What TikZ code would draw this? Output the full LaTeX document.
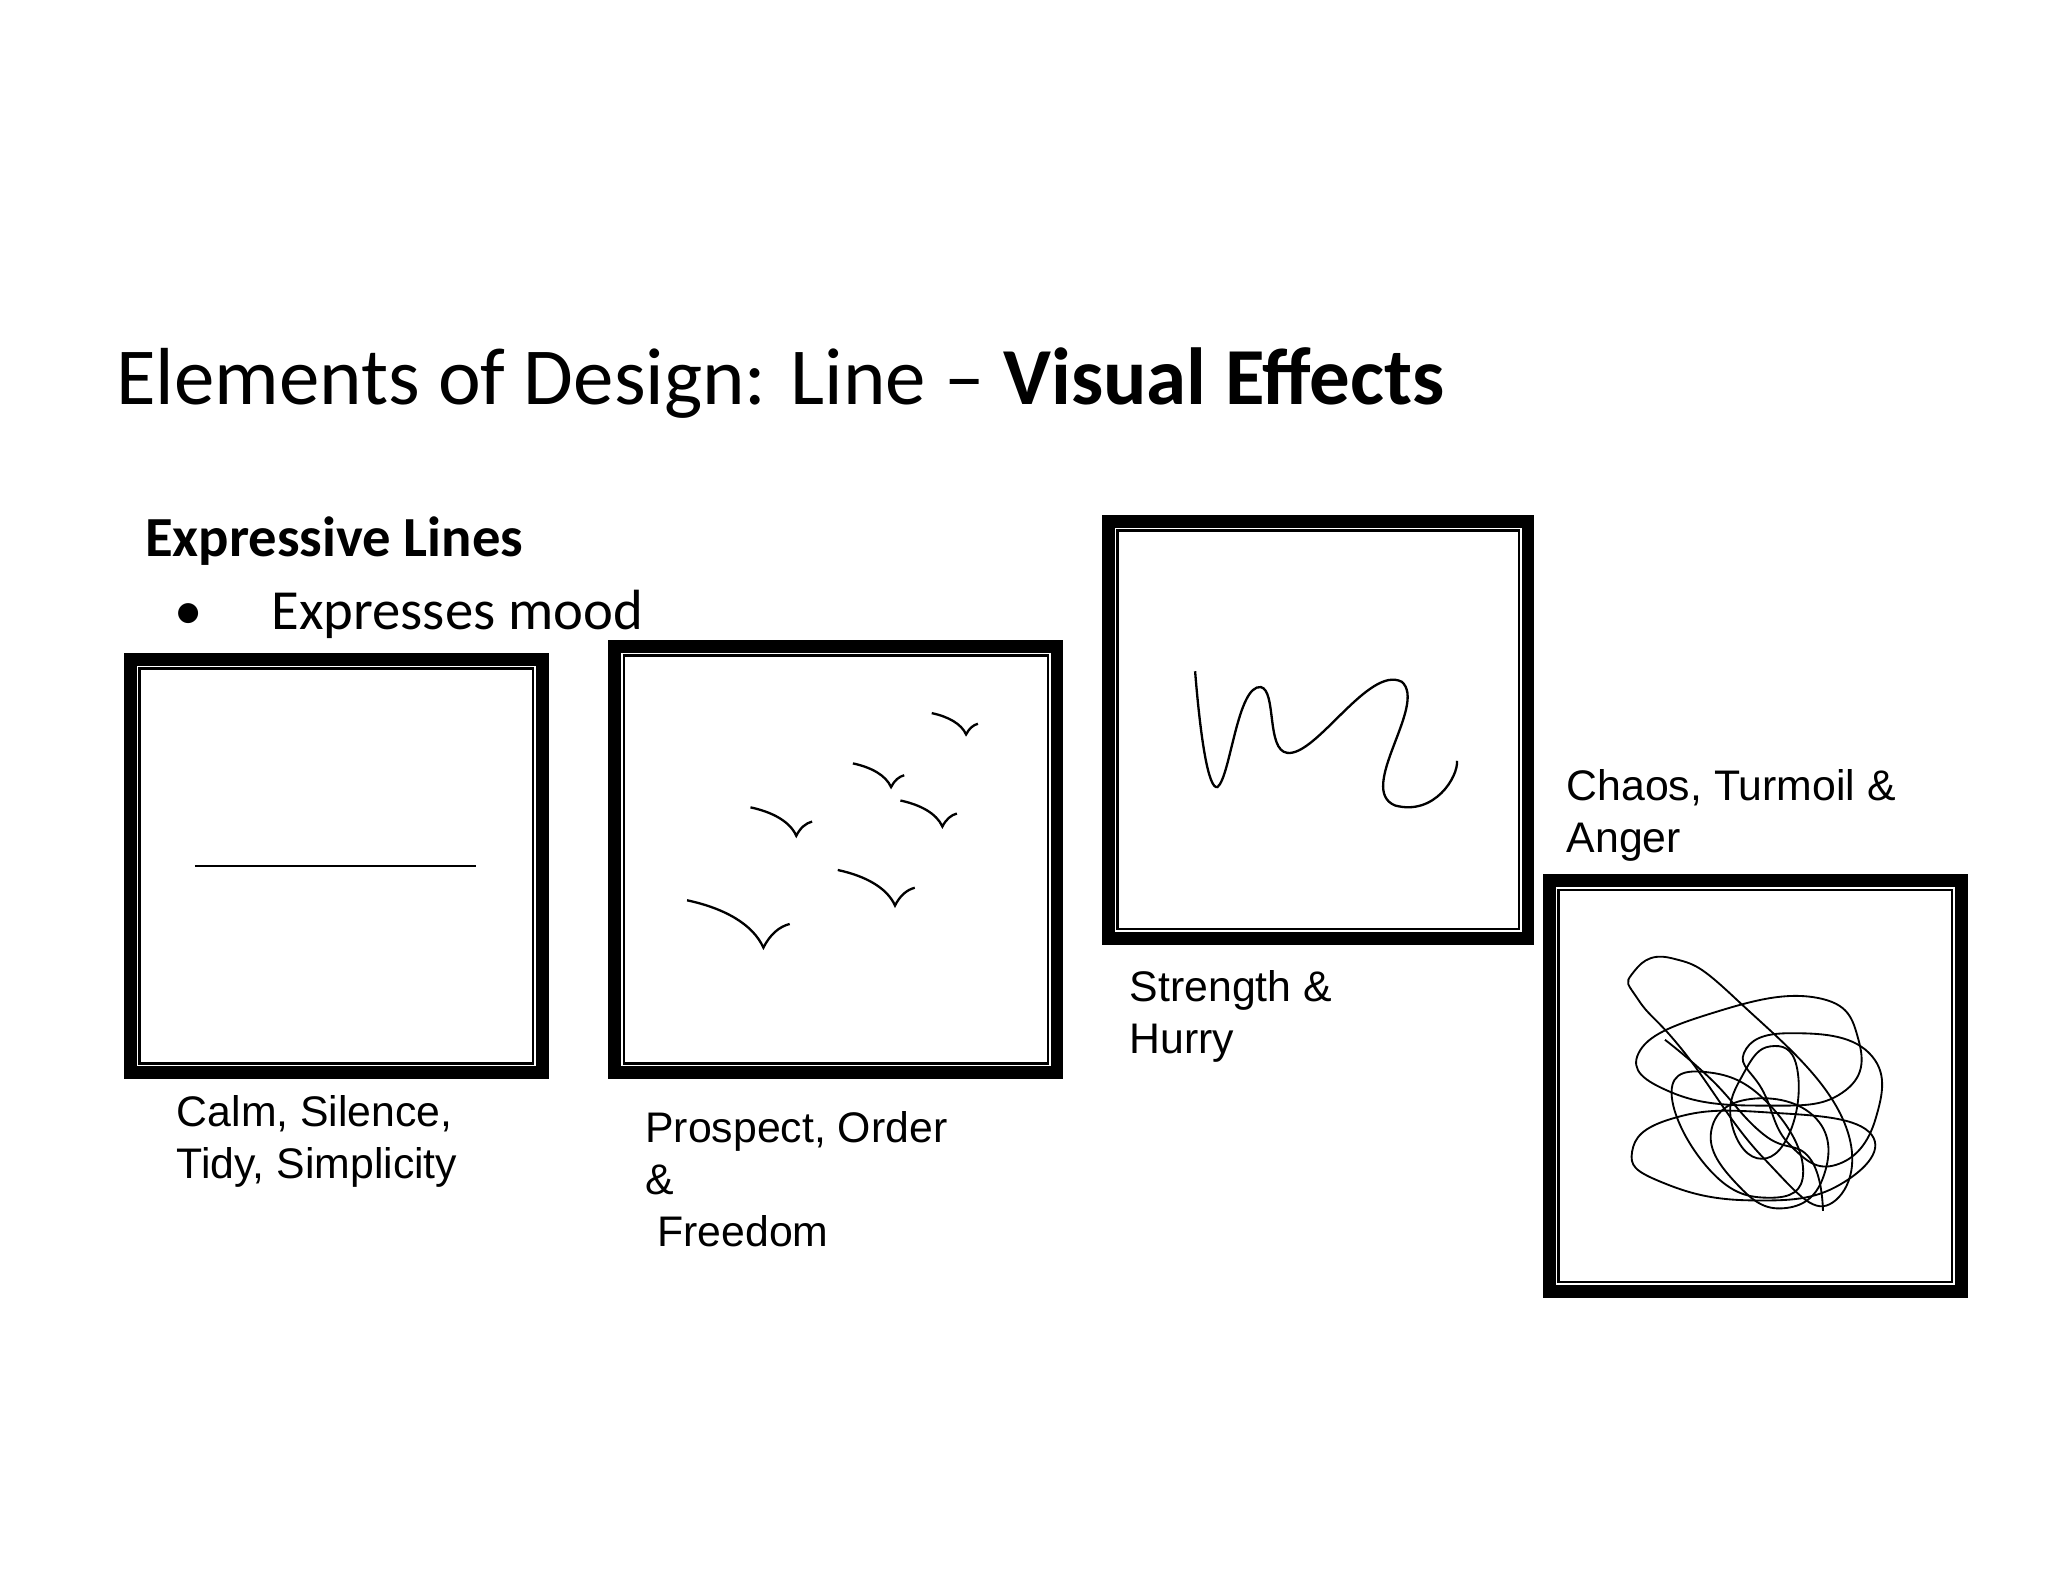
\documentclass[tikz,border=0pt]{standalone}
\usepackage{fontspec}
\setmainfont{Carlito}
\newfontfamily\arial{Liberation Sans}
\begin{document}
\begin{tikzpicture}[x=0.02cm,y=-0.02cm,
  frameo/.style={line width=5.5pt},
  framei/.style={line width=1pt},
  lab/.style={anchor=north west,align=left,font=\arial\fontsize{18.5}{22.5}\selectfont,inner sep=0pt},
  ln/.style={line width=0.9pt}]
\useasboundingbox (0,0) rectangle (1556,1202);
\node[anchor=base west,inner sep=0pt,font=\fontsize{35}{40}\selectfont] (title) at (88,307) {Elements of Design: Line -- \textbf{Visual Effects}};
\node[anchor=base west,inner sep=0pt,font=\bfseries\fontsize{24.5}{28}\selectfont] (h) at (110,423) {Expressive Lines};
\node[anchor=base west,inner sep=0pt,font=\fontsize{24.5}{28}\selectfont] (b) at (132,478) {•\hspace{1.05cm}Expresses mood};
% frames
\foreach \a/\b/\c/\d in {96/498/415/818, 464/488/806/818, 839/393/1164/716, 1174/666/1493/984}{
  \draw[frameo] (\a+3,\b+3) rectangle (\c-3,\d-3);
  \draw[framei] (\a+10,\b+10) rectangle (\c-10,\d-10);
}
% calm
\draw[ln] (148,658) -- (362,658);
% birds
\tikzset{bird/.pic={\draw[line width=1pt] (-58,-36) .. controls (-30,-30) and (-8,-18) .. (0,0) .. controls (5,-10) and (12,-16) .. (20,-18);}}
\pic at (580,720) {bird};
\pic[scale=0.75] at (680,688) {bird};
\pic[scale=0.6] at (605,635) {bird};
\pic[scale=0.55] at (716,628) {bird};
\pic[scale=0.5] at (677,598) {bird};
\pic[scale=0.45] at (734,558) {bird};
% squiggle
\draw[line width=1pt] (908,510) .. controls (912,560) and (918,600) .. (925,598)
  .. controls (935,590) and (940,520) .. (958,522)
  .. controls (970,525) and (962,570) .. (978,572)
  .. controls (1000,575) and (1040,505) .. (1065,518)
  .. controls (1085,535) and (1030,600) .. (1060,612)
  .. controls (1090,620) and (1108,590) .. (1107,578);
% chaos
\begin{scope}[line width=0.8pt]
\draw plot[smooth cycle,tension=0.8] coordinates {(1240,740) (1270,728) (1320,760) (1400,850) (1390,915) (1340,880) (1280,800) (1245,760)};
\draw plot[smooth cycle,tension=0.8] coordinates {(1245,800) (1300,770) (1380,758) (1412,790) (1400,830) (1340,840) (1270,830)};
\draw plot[smooth cycle,tension=0.8] coordinates {(1240,875) (1270,850) (1340,845) (1420,860) (1398,900) (1330,912) (1262,898)};
\draw plot[smooth cycle,tension=0.8] coordinates {(1325,800) (1360,785) (1420,800) (1425,850) (1395,885) (1360,870) (1340,830)};
\draw plot[smooth cycle,tension=0.8] coordinates {(1270,830) (1300,815) (1345,840) (1370,890) (1345,910) (1300,890)};
\draw plot[smooth cycle,tension=0.8] coordinates {(1300,860) (1330,835) (1380,850) (1385,895) (1355,918) (1320,900)};
\draw plot[smooth cycle,tension=0.8] coordinates {(1325,815) (1345,795) (1365,810) (1360,860) (1335,880) (1315,850)};
\draw plot[smooth,tension=0.8] coordinates {(1265,790) (1300,820) (1340,862) (1375,880) (1385,920)};
\end{scope}
% labels
\node[lab] (l1) at (134,832) {Calm, Silence,\\Tidy, Simplicity};
\node[lab] (l2) at (490,844) {Prospect, Order\\\&\\\ Freedom};
\node[lab] (l3) at (858,737) {Strength \&\\Hurry};
\node[lab] (l4) at (1190,584) {Chaos, Turmoil \&\\Anger};
\end{tikzpicture}
\end{document}
